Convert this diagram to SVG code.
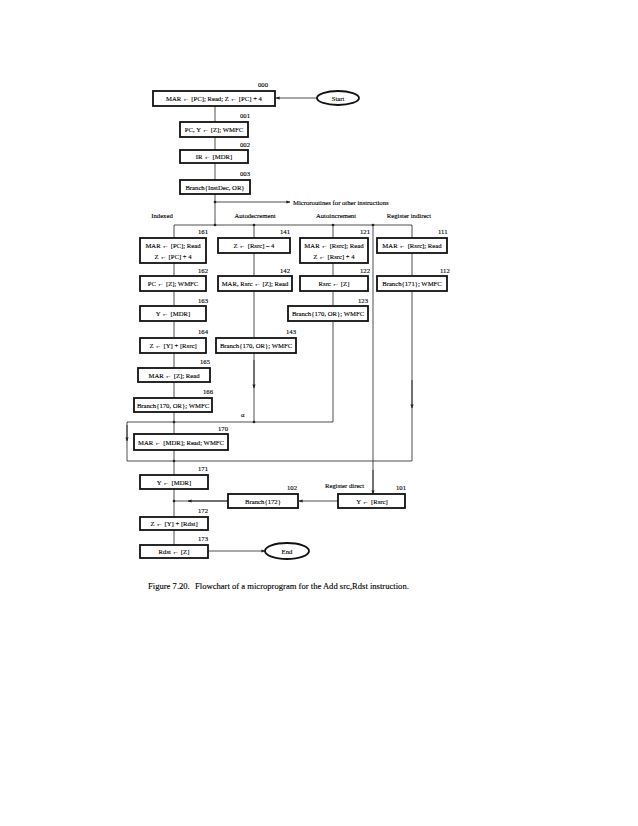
<svg xmlns="http://www.w3.org/2000/svg" width="638" height="826" viewBox="0 0 638 826">
<style>
text{font-family:"Liberation Serif",serif;font-size:6.7px;fill:#000;stroke:#000;stroke-width:0.12}
.t{text-anchor:middle}
.b{fill:#fff;stroke:#111;stroke-width:1.8}
.l{fill:none;stroke:#222;stroke-width:0.8}
.cap{font-size:8.6px}
</style>
<defs>
<marker id="a" viewBox="0 0 10 10" refX="9" refY="5" markerWidth="5" markerHeight="5" orient="auto"><path d="M0,1L10,5L0,9z" fill="#222"/></marker>
</defs>
<rect width="638" height="826" fill="#fff"/>
<g id="connectors">
<path class="l" d="M317,98H276" marker-end="url(#a)"/>
<path class="l" d="M215,106V122M215,137V150M215,163V180M215,194V225"/>
<path class="l" d="M215,202H290" marker-end="url(#a)"/>
<path class="l" d="M174,225H412"/>
<path class="l" d="M174,225V238M254,225V238M333,225V238M412,225V238"/>
<path class="l" d="M373,225V494"/>
<path class="l" d="M174,263V275M254,253V275M333,263V275M412,253V275"/>
<path class="l" d="M174,291V305M333,291V305M174,322V337M174,353V368M174,382V398M174,412V434"/>
<path class="l" d="M254,291V337M254,353V422M333,322V422M127,422H333M127,422V461H412M412,291V461"/>
<path class="l" d="M254,360V388" marker-end="url(#a)"/>
<path class="l" d="M412,380V408" marker-end="url(#a)"/>
<path class="l" d="M127,425V441" marker-end="url(#a)"/>
<path class="l" d="M174,450V475M174,489V517M174,530V545"/>
<path class="l" d="M373,470V494" marker-end="url(#a)"/>
<path class="l" d="M338,501H299" marker-end="url(#a)"/>
<path class="l" d="M228,501H174"/>
<path class="l" d="M228,501H188" marker-end="url(#a)"/>
<path class="l" d="M208,551H265" marker-end="url(#a)"/>
<g fill="#222"><circle cx="215" cy="202" r="1.3"/><circle cx="215" cy="225" r="1.3"/><circle cx="254" cy="225" r="1.3"/><circle cx="333" cy="225" r="1.3"/><circle cx="373" cy="225" r="1.3"/><circle cx="174" cy="422" r="1.3"/><circle cx="254" cy="422" r="1.3"/><circle cx="174" cy="461" r="1.3"/><circle cx="174" cy="501" r="1.3"/></g>
</g>
<g id="start"><ellipse class="b" cx="338" cy="98" rx="21" ry="7"/><text class="t" x="338" y="100.5">Start</text></g>
<g id="n000"><rect class="b" x="153" y="91" width="122" height="15"/><text class="t" x="214" y="101">MAR ← [PC]; Read; Z ← [PC] + 4</text><text x="258" y="87">000</text></g>
<g id="n001"><rect class="b" x="180" y="122" width="68" height="15"/><text class="t" x="214" y="132">PC, Y ← [Z]; WMFC</text><text x="240" y="118">001</text></g>
<g id="n002"><rect class="b" x="180" y="150" width="68" height="13"/><text class="t" x="214" y="159">IR ← [MDR]</text><text x="240" y="147">002</text></g>
<g id="n003"><rect class="b" x="180" y="180" width="70" height="14"/><text class="t" x="215" y="190">Branch{InstDec, OR}</text><text x="240" y="176">003</text></g>
<text x="293" y="204.5">Microroutines for other instructions</text>
<text class="t" x="162" y="218">Indexed</text>
<text class="t" x="255" y="218">Autodecrement</text>
<text class="t" x="336" y="218">Autoincrement</text>
<text class="t" x="409" y="218">Register indirect</text>
<g id="n161"><rect class="b" x="140" y="238" width="66" height="25"/><text class="t" x="173" y="248">MAR ← [PC]; Read</text><text class="t" x="173" y="259">Z ← [PC] + 4</text><text x="198" y="234">161</text></g>
<g id="n141"><rect class="b" x="218" y="238" width="72" height="15"/><text class="t" x="254" y="248">Z ← [Rsrc] – 4</text><text x="280" y="234">141</text></g>
<g id="n121"><rect class="b" x="300" y="238" width="68" height="25"/><text class="t" x="334" y="248">MAR ← [Rsrc]; Read</text><text class="t" x="334" y="259">Z ← [Rsrc] + 4</text><text x="360" y="234">121</text></g>
<g id="n111"><rect class="b" x="377" y="238" width="70" height="15"/><text class="t" x="412" y="248">MAR ← [Rsrc]; Read</text><text x="438" y="234">111</text></g>
<g id="n162"><rect class="b" x="140" y="276" width="66" height="15"/><text class="t" x="173" y="286">PC ← [Z]; WMFC</text><text x="198" y="273">162</text></g>
<g id="n142"><rect class="b" x="218" y="276" width="74" height="15"/><text class="t" x="255" y="286">MAR, Rsrc ← [Z]; Read</text><text x="280" y="273">142</text></g>
<g id="n122"><rect class="b" x="300" y="276" width="68" height="15"/><text class="t" x="334" y="286">Rsrc ← [Z]</text><text x="360" y="273">122</text></g>
<g id="n112"><rect class="b" x="377" y="276" width="70" height="15"/><text class="t" x="412" y="286">Branch{171}; WMFC</text><text x="440" y="273">112</text></g>
<g id="n163"><rect class="b" x="140" y="306" width="66" height="15"/><text class="t" x="173" y="316">Y ← [MDR]</text><text x="198" y="303">163</text></g>
<g id="n123"><rect class="b" x="288" y="306" width="80" height="15"/><text class="t" x="328" y="316">Branch{170, OR}; WMFC</text><text x="358" y="303">123</text></g>
<g id="n164"><rect class="b" x="140" y="338" width="66" height="15"/><text class="t" x="173" y="348">Z ← [Y] + [Rsrc]</text><text x="198" y="334">164</text></g>
<g id="n143"><rect class="b" x="216" y="338" width="80" height="15"/><text class="t" x="256" y="348">Branch{170, OR}; WMFC</text><text x="286" y="334">143</text></g>
<g id="n165"><rect class="b" x="138" y="368" width="72" height="14"/><text class="t" x="174" y="378">MAR ← [Z]; Read</text><text x="200" y="364">165</text></g>
<g id="n166"><rect class="b" x="134" y="398" width="78" height="14"/><text class="t" x="173" y="408">Branch{170, OR}; WMFC</text><text x="203" y="394">166</text></g>
<text x="241" y="417">α</text>
<g id="n170"><rect class="b" x="134" y="434" width="94" height="16"/><text class="t" x="181" y="445">MAR ← [MDR]; Read; WMFC</text><text x="218" y="431">170</text></g>
<g id="n171"><rect class="b" x="140" y="475" width="68" height="14"/><text class="t" x="174" y="485">Y ← [MDR]</text><text x="198" y="471">171</text></g>
<g id="n102"><rect class="b" x="228" y="494" width="70" height="14"/><text class="t" x="263" y="504">Branch{172}</text><text x="287" y="490">102</text></g>
<g id="n101"><rect class="b" x="338" y="494" width="67" height="14"/><text class="t" x="372" y="504">Y ← [Rsrc]</text><text x="325" y="488">Register direct</text><text x="396" y="490">101</text></g>
<g id="n172"><rect class="b" x="140" y="517" width="68" height="13"/><text class="t" x="174" y="526">Z ← [Y] + [Rdst]</text><text x="198" y="513">172</text></g>
<g id="n173"><rect class="b" x="140" y="545" width="68" height="13"/><text class="t" x="174" y="554">Rdst ← [Z]</text><text x="198" y="541">173</text></g>
<g id="end"><ellipse class="b" cx="287" cy="551" rx="22" ry="8"/><text class="t" x="287" y="553.5">End</text></g>
<text class="cap" x="148" y="589">Figure 7.20.</text><text class="cap" x="195" y="589">Flowchart of a microprogram for the Add src,Rdst instruction.</text>
</svg>
